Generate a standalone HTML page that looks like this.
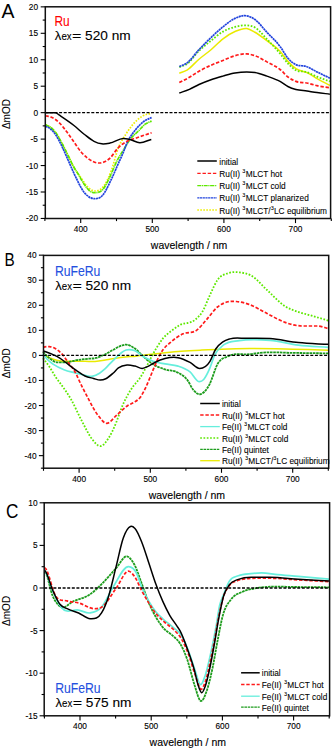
<!DOCTYPE html>
<html><head><meta charset="utf-8"><style>
html,body{margin:0;padding:0;background:#fff;width:333px;height:749px;overflow:hidden}
svg{display:block}
text{font-family:"Liberation Sans",sans-serif;fill:#000}
.tick{font-size:8.3px;fill:#000;stroke:#000;stroke-width:0.12px}
.leg{font-size:8.3px;fill:#000;stroke:#000;stroke-width:0.08px}
.sup{font-size:5.5px}
.xl{font-size:10.5px;fill:#000;stroke:#000;stroke-width:0.12px}
.yl{font-size:10px;fill:#000;stroke:#000;stroke-width:0.05px}
.pl{font-size:19.4px}
.an{font-size:13px;stroke:#000;stroke-width:0.1px}
.nm{font-size:14px}
.sub{font-size:10px;stroke:#000;stroke-width:0.1px}
</style></head><body>
<svg width="333" height="749" viewBox="0 0 333 749">
<path d="M45.47,124.82 C46.98,125.54 48.48,125.93 49.98,126.99 C51.99,128.40 53.99,130.27 56.00,133.02 C58.00,135.77 60.01,139.74 62.01,143.49 C64.02,147.24 66.02,151.50 68.03,155.50 C70.03,159.50 72.04,164.00 74.04,167.51 C76.28,171.43 78.53,174.21 80.77,177.40 C83.18,180.82 85.59,185.03 88.00,187.29 C90.41,189.56 92.82,190.97 95.23,190.99 C98.22,191.02 101.20,189.80 104.18,185.49 C106.60,182.01 109.01,176.74 111.42,170.21 C113.64,164.19 115.86,154.32 118.08,148.52 C120.77,141.47 123.47,137.96 126.17,133.70 C128.89,129.41 131.61,125.86 134.33,122.91 C137.03,120.00 139.72,117.70 142.42,116.09 C145.47,114.27 148.53,114.15 151.58,113.18" fill="none" stroke="#eeee00" stroke-width="1.70" stroke-dasharray="1.6 1.4" stroke-linejoin="round"/>
<path d="M179.29,73.24 C181.87,72.18 184.45,71.63 187.03,70.07 C191.01,67.65 195.00,62.61 198.98,59.22 C202.99,55.82 207.00,53.11 211.01,49.70 C215.00,46.30 218.98,41.82 222.97,38.80 C226.98,35.76 230.99,33.27 235.00,31.55 C238.94,29.87 242.87,27.89 246.81,28.54 C249.53,28.99 252.25,30.72 254.97,32.24 C258.94,34.46 262.90,37.74 266.86,40.71 C271.25,44.00 275.64,46.30 280.03,51.13 C282.80,54.17 285.57,58.86 288.34,61.87 C290.87,64.62 293.40,66.98 295.93,68.69 C299.61,71.18 303.28,70.88 306.96,72.60 C310.77,74.39 314.59,77.19 318.41,79.32 C322.23,81.46 326.05,83.38 329.87,85.41" fill="none" stroke="#eaea00" stroke-width="1.50" stroke-linejoin="round"/>
<path d="M45.47,124.82 C46.98,125.54 48.48,125.93 49.98,126.99 C51.99,128.40 53.99,130.27 56.00,133.02 C58.00,135.77 60.01,139.74 62.01,143.49 C64.02,147.24 66.02,151.50 68.03,155.50 C70.03,159.50 72.04,164.02 74.04,167.51 C75.31,169.71 76.57,171.44 77.84,173.49 C80.03,177.03 82.23,181.49 84.42,184.59 C86.21,187.13 88.00,189.62 89.79,190.99 C91.89,192.61 93.99,192.86 96.09,192.69 C98.19,192.52 100.29,192.17 102.39,189.99 C104.81,187.48 107.22,182.23 109.63,177.40 C112.01,172.62 114.40,165.90 116.79,161.21 C119.03,156.81 121.27,153.56 123.52,149.89 C125.78,146.19 128.05,142.09 130.32,139.10 C133.02,135.54 135.71,133.72 138.41,131.01 C140.65,128.75 142.90,125.84 145.14,124.18 C147.29,122.59 149.44,122.14 151.58,121.11" fill="none" stroke="#5ee800" stroke-width="1.70" stroke-dasharray="4 0.6 1.2 0.6" stroke-linejoin="round"/>
<path d="M179.29,67.16 C181.87,66.10 184.45,65.73 187.03,63.98 C191.01,61.28 195.00,54.79 198.98,50.92 C202.99,47.02 207.00,43.93 211.01,40.71 C215.00,37.50 218.98,33.90 222.97,31.61 C226.98,29.30 230.99,27.99 235.00,26.95 C238.94,25.93 242.87,24.98 246.81,25.37 C249.53,25.63 252.25,25.98 254.97,27.48 C258.94,29.67 262.90,35.03 266.86,39.12 C271.25,43.65 275.64,48.26 280.03,53.51 C282.80,56.82 285.57,61.10 288.34,63.98 C290.87,66.61 293.40,68.98 295.93,70.33 C299.13,72.03 302.33,70.87 305.52,71.76 C309.34,72.82 313.16,75.15 316.98,76.68 C321.28,78.40 325.57,79.85 329.87,81.44" fill="none" stroke="#5ee800" stroke-width="1.80" stroke-dasharray="1.7 1.6" stroke-linejoin="round"/>
<path d="M45.47,126.30 C46.98,127.04 48.48,127.37 49.98,128.52 C51.99,130.05 53.99,132.29 56.00,135.29 C58.00,138.29 60.01,142.39 62.01,146.51 C64.02,150.62 66.02,155.50 68.03,160.00 C70.03,164.49 72.04,169.28 74.04,173.49 C77.50,180.75 80.96,188.48 84.42,192.69 C87.72,196.69 91.01,198.54 94.30,198.72 C97.00,198.87 99.70,198.36 102.39,195.49 C105.40,192.29 108.41,185.39 111.42,179.20 C113.80,174.28 116.19,168.31 118.58,163.01 C119.79,160.31 121.01,157.78 122.23,154.97 C124.02,150.84 125.81,145.47 127.60,141.75 C130.29,136.13 132.99,132.95 135.69,129.58 C138.39,126.20 141.08,123.53 143.78,121.48 C146.38,119.52 148.98,118.77 151.58,117.41" fill="none" stroke="#2244dd" stroke-width="1.70" stroke-dasharray="2.2 0.5" stroke-linejoin="round"/>
<path d="M179.29,66.52 C181.87,65.32 184.45,64.77 187.03,62.92 C191.01,60.07 195.00,53.92 198.98,49.70 C202.99,45.45 207.00,41.36 211.01,37.53 C215.00,33.73 218.98,29.98 222.97,26.79 C226.98,23.59 230.99,20.21 235.00,18.38 C238.94,16.59 242.87,15.13 246.81,15.84 C249.53,16.33 252.25,17.63 254.97,19.55 C258.94,22.33 262.90,28.00 266.86,32.24 C271.25,36.95 275.64,40.61 280.03,46.42 C282.80,50.08 285.57,55.60 288.34,58.69 C290.87,61.52 293.40,63.37 295.93,64.67 C299.13,66.31 302.33,65.25 305.52,66.26 C309.34,67.46 313.16,70.05 316.98,71.92 C321.28,74.02 325.57,76.08 329.87,78.16" fill="none" stroke="#2244dd" stroke-width="1.70" stroke-dasharray="2.2 0.5" stroke-linejoin="round"/>
<path d="M45.47,115.77 C47.48,116.26 49.48,116.36 51.49,117.25 C53.99,118.37 56.50,120.12 59.01,122.49 C61.51,124.86 64.02,128.21 66.52,131.48 C69.01,134.72 71.49,138.53 73.97,142.01 C76.48,145.53 78.98,149.62 81.49,152.48 C83.66,154.97 85.83,156.92 88.00,158.51 C91.61,161.16 95.21,163.01 98.81,163.01 C102.42,163.01 106.02,161.72 109.63,158.51 C112.44,156.01 115.26,150.70 118.08,147.88 C120.77,145.19 123.47,143.39 126.17,141.80 C129.77,139.67 133.37,139.03 136.98,137.72 C141.85,135.97 146.72,134.41 151.58,132.75" fill="none" stroke="#ff1a1a" stroke-width="1.70" stroke-dasharray="3.4 1.8" stroke-linejoin="round"/>
<path d="M179.29,82.60 C182.66,80.82 186.02,79.20 189.39,77.26 C192.59,75.41 195.79,73.10 198.98,71.28 C202.99,69.00 207.00,67.06 211.01,65.25 C215.00,63.45 218.98,62.03 222.97,60.44 C226.98,58.84 230.99,56.76 235.00,55.68 C238.94,54.61 242.87,53.67 246.81,53.93 C249.53,54.11 252.25,54.75 254.97,55.68 C258.94,57.02 262.90,59.69 266.86,61.87 C271.25,64.27 275.64,66.00 280.03,69.48 C282.80,71.68 285.57,75.18 288.34,77.21 C290.87,79.06 293.40,80.41 295.93,81.39 C299.61,82.81 303.28,82.26 306.96,83.03 C310.30,83.72 313.64,84.94 316.98,85.67 C321.28,86.62 325.57,87.08 329.87,87.79" fill="none" stroke="#ff1a1a" stroke-width="1.70" stroke-dasharray="3.4 1.8" stroke-linejoin="round"/>
<path d="M44.90,112.65 C48.43,112.65 51.96,112.65 55.50,112.65 C56.67,112.65 57.84,114.19 59.01,114.98 C63.99,118.32 68.98,121.55 73.97,125.50 C77.48,128.28 80.99,131.75 84.49,134.50 C87.67,136.98 90.84,139.73 94.02,141.32 C96.62,142.63 99.22,143.55 101.82,143.86 C104.54,144.18 107.26,143.60 109.98,143.07 C114.40,142.21 118.82,138.48 123.23,138.41 C125.43,138.38 127.62,138.92 129.82,139.42 C133.11,140.16 136.40,142.54 139.70,142.70 C143.56,142.89 147.43,140.51 151.30,139.42" fill="none" stroke="#000" stroke-width="1.50" stroke-linejoin="round"/>
<path d="M179.29,93.02 C182.66,91.81 186.02,90.84 189.39,89.37 C192.59,87.98 195.79,85.98 198.98,84.51 C202.99,82.66 207.00,81.10 211.01,79.69 C215.00,78.30 218.98,77.21 222.97,76.10 C226.98,74.97 230.99,73.67 235.00,72.98 C238.94,72.29 242.87,71.91 246.81,71.92 C249.53,71.92 252.25,72.00 254.97,72.45 C258.94,73.10 262.90,74.75 266.86,76.15 C271.25,77.70 275.64,79.04 280.03,81.44 C282.80,82.95 285.57,85.37 288.34,86.73 C290.87,87.97 293.40,88.75 295.93,89.43 C299.61,90.42 303.28,90.47 306.96,91.01 C310.30,91.51 313.64,92.08 316.98,92.55 C321.28,93.15 325.57,93.61 329.87,94.14" fill="none" stroke="#000" stroke-width="1.50" stroke-linejoin="round"/>
<line x1="45.30" y1="112.65" x2="330.60" y2="112.65" stroke="#000" stroke-width="1.3" stroke-dasharray="3 1.6"/>
<rect x="45.30" y="6.80" width="285.30" height="211.70" fill="none" stroke="#111" stroke-width="1.5"/>
<line x1="40.70" y1="218.45" x2="45.30" y2="218.45" stroke="#000" stroke-width="1.1"/>
<text x="38.00" y="221.45" class="tick" text-anchor="end">-20</text>
<line x1="42.70" y1="205.23" x2="45.30" y2="205.23" stroke="#000" stroke-width="1.1"/>
<line x1="40.70" y1="192.00" x2="45.30" y2="192.00" stroke="#000" stroke-width="1.1"/>
<text x="38.00" y="195.00" class="tick" text-anchor="end">-15</text>
<line x1="42.70" y1="178.78" x2="45.30" y2="178.78" stroke="#000" stroke-width="1.1"/>
<line x1="40.70" y1="165.55" x2="45.30" y2="165.55" stroke="#000" stroke-width="1.1"/>
<text x="38.00" y="168.55" class="tick" text-anchor="end">-10</text>
<line x1="42.70" y1="152.32" x2="45.30" y2="152.32" stroke="#000" stroke-width="1.1"/>
<line x1="40.70" y1="139.10" x2="45.30" y2="139.10" stroke="#000" stroke-width="1.1"/>
<text x="38.00" y="142.10" class="tick" text-anchor="end">-5</text>
<line x1="42.70" y1="125.88" x2="45.30" y2="125.88" stroke="#000" stroke-width="1.1"/>
<line x1="40.70" y1="112.65" x2="45.30" y2="112.65" stroke="#000" stroke-width="1.1"/>
<text x="38.00" y="115.65" class="tick" text-anchor="end">0</text>
<line x1="42.70" y1="99.43" x2="45.30" y2="99.43" stroke="#000" stroke-width="1.1"/>
<line x1="40.70" y1="86.20" x2="45.30" y2="86.20" stroke="#000" stroke-width="1.1"/>
<text x="38.00" y="89.20" class="tick" text-anchor="end">5</text>
<line x1="42.70" y1="72.98" x2="45.30" y2="72.98" stroke="#000" stroke-width="1.1"/>
<line x1="40.70" y1="59.75" x2="45.30" y2="59.75" stroke="#000" stroke-width="1.1"/>
<text x="38.00" y="62.75" class="tick" text-anchor="end">10</text>
<line x1="42.70" y1="46.53" x2="45.30" y2="46.53" stroke="#000" stroke-width="1.1"/>
<line x1="40.70" y1="33.30" x2="45.30" y2="33.30" stroke="#000" stroke-width="1.1"/>
<text x="38.00" y="36.30" class="tick" text-anchor="end">15</text>
<line x1="42.70" y1="20.08" x2="45.30" y2="20.08" stroke="#000" stroke-width="1.1"/>
<line x1="40.70" y1="6.85" x2="45.30" y2="6.85" stroke="#000" stroke-width="1.1"/>
<text x="38.00" y="9.85" class="tick" text-anchor="end">20</text>
<line x1="44.90" y1="218.50" x2="44.90" y2="221.10" stroke="#000" stroke-width="1.1"/>
<line x1="80.70" y1="218.50" x2="80.70" y2="223.10" stroke="#000" stroke-width="1.1"/>
<text x="80.70" y="232.10" class="tick" text-anchor="middle">400</text>
<line x1="116.50" y1="218.50" x2="116.50" y2="221.10" stroke="#000" stroke-width="1.1"/>
<line x1="152.30" y1="218.50" x2="152.30" y2="223.10" stroke="#000" stroke-width="1.1"/>
<text x="152.30" y="232.10" class="tick" text-anchor="middle">500</text>
<line x1="188.10" y1="218.50" x2="188.10" y2="221.10" stroke="#000" stroke-width="1.1"/>
<line x1="223.90" y1="218.50" x2="223.90" y2="223.10" stroke="#000" stroke-width="1.1"/>
<text x="223.90" y="232.10" class="tick" text-anchor="middle">600</text>
<line x1="259.70" y1="218.50" x2="259.70" y2="221.10" stroke="#000" stroke-width="1.1"/>
<line x1="295.50" y1="218.50" x2="295.50" y2="223.10" stroke="#000" stroke-width="1.1"/>
<text x="295.50" y="232.10" class="tick" text-anchor="middle">700</text>
<line x1="331.30" y1="218.50" x2="331.30" y2="221.10" stroke="#000" stroke-width="1.1"/>
<line x1="197.30" y1="161.00" x2="216.80" y2="161.00" fill="none" stroke="#000" stroke-width="1.50"/>
<text x="219.30" y="164.60" class="leg">initial</text>
<line x1="197.30" y1="173.30" x2="216.80" y2="173.30" fill="none" stroke="#ff1a1a" stroke-width="1.30" stroke-dasharray="3.4 1.8"/>
<text x="219.30" y="176.90" class="leg">Ru(II) <tspan class="sup" dy="-4.0">3</tspan><tspan dx="0.3" dy="4.0">MLCT hot</tspan></text>
<line x1="197.30" y1="185.60" x2="216.80" y2="185.60" fill="none" stroke="#5ee800" stroke-width="1.30" stroke-dasharray="4 0.6 1.2 0.6"/>
<text x="219.30" y="189.20" class="leg">Ru(II) <tspan class="sup" dy="-4.0">3</tspan><tspan dx="0.3" dy="4.0">MLCT cold</tspan></text>
<line x1="197.30" y1="197.80" x2="216.80" y2="197.80" fill="none" stroke="#2244dd" stroke-width="1.30" stroke-dasharray="2.2 0.5"/>
<text x="219.30" y="201.40" class="leg">Ru(II) <tspan class="sup" dy="-4.0">3</tspan><tspan dx="0.3" dy="4.0">MLCT planarized</tspan></text>
<line x1="197.30" y1="210.00" x2="216.80" y2="210.00" fill="none" stroke="#eeee00" stroke-width="1.30" stroke-dasharray="1.6 1.4"/>
<text x="219.30" y="213.60" class="leg">Ru(II) <tspan class="sup" dy="-4.0">3</tspan><tspan dx="0.3" dy="4.0">MLCT/</tspan><tspan class="sup" dy="-4.0">3</tspan><tspan dx="0.3" dy="4.0">LC equilibrium</tspan></text>
<text x="189.10" y="248.90" class="xl" text-anchor="middle">wavelength / nm</text>
<text transform="translate(9.8,114.10) rotate(-90)" class="yl" text-anchor="middle">&#916;mOD</text>
<path d="M43.00,355.00 C46.49,356.40 49.98,358.16 53.47,359.21 C56.98,360.26 60.49,361.29 64.01,361.29 C71.01,361.29 78.01,361.29 85.01,361.29 C88.33,361.29 91.65,361.60 94.98,361.41 C99.49,361.16 104.00,360.08 108.51,359.41 C114.01,358.58 119.52,357.46 125.02,356.90 C128.70,356.53 132.38,356.48 136.06,356.15 C142.04,355.63 148.02,354.68 154.00,354.00 C162.02,353.07 170.05,352.04 178.07,351.39 C185.43,350.79 192.78,350.52 200.14,350.14 C207.26,349.77 214.38,349.39 221.50,349.13 C230.99,348.79 240.49,348.58 249.98,348.51 C264.22,348.40 278.46,348.82 292.70,349.13 C304.57,349.40 316.43,349.80 328.30,350.14" fill="none" stroke="#eaea00" stroke-width="1.50" stroke-linejoin="round"/>
<path d="M43.00,351.79 C45.09,353.90 47.18,356.46 49.27,358.11 C52.09,360.34 54.92,362.29 57.74,362.29 C60.52,362.29 63.29,362.29 66.07,362.29 C69.58,362.29 73.10,360.79 76.61,360.21 C80.81,359.52 85.01,359.07 89.21,358.66 C91.13,358.47 93.06,358.53 94.98,358.16 C97.99,357.57 101.01,356.28 104.02,354.90 C107.01,353.53 110.00,351.49 112.99,349.91 C116.01,348.32 119.02,346.30 122.03,345.40 C123.20,345.05 124.36,344.68 125.52,344.62 C128.68,344.47 131.84,346.44 134.99,348.61 C138.01,350.68 141.02,354.48 144.03,357.10 C147.02,359.71 150.02,362.39 153.01,364.30 C156.99,366.84 160.98,367.94 164.97,369.31 C169.33,370.80 173.70,370.18 178.07,372.69 C181.27,374.54 184.48,376.06 187.68,380.46 C189.46,382.91 191.24,387.25 193.02,389.48 C195.35,392.40 197.67,394.44 200.00,394.24 C201.47,394.12 202.94,393.17 204.41,391.74 C206.07,390.12 207.73,387.64 209.40,384.59 C212.20,379.47 215.00,368.34 217.80,363.59 C221.19,357.85 224.59,358.07 227.98,356.30 C235.31,352.49 242.65,355.03 249.98,354.20 C254.32,353.71 258.67,352.95 263.01,352.59 C272.91,351.78 282.80,352.78 292.70,352.89 C304.57,353.04 316.43,353.23 328.30,353.40" fill="none" stroke="#1c9c1c" stroke-width="1.80" stroke-dasharray="2.6 0.7" stroke-linejoin="round"/>
<path d="M43.00,358.11 C45.09,360.90 47.18,363.37 49.27,366.50 C51.38,369.66 53.49,373.83 55.60,377.00 C57.69,380.14 59.78,382.51 61.87,385.47 C64.84,389.68 67.80,393.78 70.77,398.90 C74.38,405.14 77.98,413.74 81.59,420.51 C85.20,427.27 88.81,435.08 92.41,439.50 C95.10,442.79 97.78,446.40 100.46,446.19 C103.17,445.98 105.87,442.25 108.58,438.10 C111.12,434.20 113.66,428.90 116.20,422.56 C117.79,418.59 119.38,413.26 120.97,409.28 C122.98,404.22 125.00,400.04 127.02,396.25 C129.01,392.50 131.00,389.44 133.00,386.60 C135.16,383.52 137.32,381.87 139.48,378.71 C141.59,375.61 143.70,371.77 145.81,367.90 C147.78,364.30 149.75,360.04 151.72,356.40 C153.48,353.16 155.24,349.97 156.99,347.13 C158.99,343.90 160.98,340.82 162.97,338.41 C165.39,335.48 167.82,333.78 170.24,331.79 C173.49,329.13 176.74,326.82 179.99,325.00 C185.00,322.21 190.01,324.09 195.01,319.81 C197.51,317.69 200.00,315.68 202.49,311.54 C204.98,307.41 207.47,300.25 209.97,295.01 C212.48,289.72 215.00,283.56 217.51,279.97 C221.00,274.99 224.49,274.51 227.98,273.20 C231.99,271.70 236.00,272.00 240.01,272.45 C243.67,272.87 247.32,273.52 250.98,275.46 C256.32,278.30 261.66,285.16 267.00,289.99 C273.00,295.43 279.01,302.48 285.01,306.28 C289.83,309.33 294.65,310.67 299.46,312.30 C303.07,313.51 306.68,314.28 310.29,315.30 C316.29,317.00 322.30,318.81 328.30,320.57" fill="none" stroke="#5ee800" stroke-width="1.80" stroke-dasharray="1.7 1.6" stroke-linejoin="round"/>
<path d="M43.00,353.90 C44.40,355.67 45.80,357.68 47.20,359.21 C49.29,361.48 51.38,362.92 53.47,364.40 C56.98,366.88 60.49,368.31 64.01,369.71 C67.49,371.10 70.98,371.85 74.47,372.79 C77.98,373.74 81.50,374.77 85.01,375.40 C87.31,375.81 89.61,376.60 91.92,376.33 C94.46,376.02 96.99,374.94 99.53,373.29 C101.03,372.32 102.52,371.06 104.02,369.71 C105.52,368.36 107.01,366.70 108.51,365.20 C110.00,363.69 111.50,362.19 112.99,360.69 C114.49,359.19 115.98,357.61 117.48,356.20 C119.00,354.77 120.51,353.25 122.03,352.19 C123.39,351.25 124.74,350.47 126.09,350.01 C129.06,349.00 132.03,349.63 134.99,350.79 C138.01,351.97 141.02,355.37 144.03,357.10 C147.02,358.83 150.02,360.12 153.01,361.19 C156.99,362.61 160.98,363.09 164.97,363.90 C169.33,364.77 173.70,364.71 178.07,366.18 C182.06,367.51 186.04,368.77 190.03,371.94 C193.16,374.43 196.30,381.83 199.43,381.71 C200.85,381.66 202.28,380.99 203.70,379.46 C205.60,377.42 207.50,373.45 209.40,369.18 C211.15,365.24 212.91,358.89 214.66,355.20 C217.77,348.66 220.88,347.19 223.99,344.70 C229.09,340.61 234.20,341.54 239.30,340.61 C249.53,338.77 259.76,339.51 269.99,340.36 C279.46,341.15 288.93,343.96 298.40,345.13 C308.36,346.35 318.33,346.63 328.30,347.38" fill="none" stroke="#66eedc" stroke-width="1.70" stroke-linejoin="round"/>
<path d="M43.00,347.21 C45.09,347.00 47.18,346.36 49.27,346.60 C51.38,346.85 53.49,347.48 55.60,348.71 C57.69,349.92 59.78,351.65 61.87,353.90 C63.98,356.17 66.09,359.33 68.21,362.29 C71.01,366.21 73.81,369.06 76.61,374.90 C77.37,376.48 78.13,378.35 78.89,380.01 C81.59,385.93 84.30,391.09 87.00,396.20 C90.61,403.01 94.22,410.34 97.83,415.09 C100.55,418.69 103.28,422.57 106.01,423.21 C109.60,424.06 113.18,418.00 116.76,415.09 C120.37,412.17 123.98,408.04 127.59,405.70 C129.79,404.26 132.00,403.75 134.21,402.26 C136.20,400.92 138.20,400.04 140.19,397.40 C141.80,395.26 143.42,392.26 145.03,388.98 C146.55,385.89 148.07,382.06 149.59,378.46 C151.04,375.02 152.48,371.31 153.93,367.90 C155.36,364.55 156.78,361.05 158.20,358.16 C159.79,354.93 161.38,352.12 162.97,349.81 C165.39,346.30 167.82,344.74 170.24,342.59 C172.23,340.82 174.22,339.20 176.22,337.81 C178.47,336.23 180.73,334.92 182.98,333.85 C187.49,331.70 192.00,333.59 196.51,330.34 C200.00,327.83 203.49,322.93 206.98,319.06 C210.49,315.17 214.00,309.92 217.51,307.03 C221.00,304.17 224.49,302.61 227.98,301.77 C230.78,301.10 233.58,301.31 236.38,301.52 C240.58,301.83 244.78,302.97 248.98,304.40 C254.99,306.45 260.99,310.40 267.00,313.40 C273.00,316.40 279.01,320.30 285.01,322.40 C291.01,324.50 297.02,326.00 303.02,326.00 C307.84,326.00 312.66,326.00 317.48,326.00 C321.09,326.00 324.69,327.74 328.30,328.61" fill="none" stroke="#ff1a1a" stroke-width="1.70" stroke-dasharray="3.4 1.8" stroke-linejoin="round"/>
<path d="M43.00,350.79 C45.80,351.82 48.60,352.68 51.40,353.90 C54.20,355.12 57.00,356.36 59.80,358.11 C62.61,359.86 65.41,362.30 68.21,364.40 C71.01,366.49 73.81,368.75 76.61,370.69 C79.41,372.62 82.21,374.71 85.01,376.00 C87.83,377.30 90.66,377.71 93.48,378.46 C95.78,379.06 98.09,380.20 100.39,380.11 C102.19,380.04 104.00,379.56 105.80,378.71 C108.20,377.58 110.59,375.43 112.99,373.29 C114.79,371.69 116.60,369.24 118.40,367.90 C121.27,365.77 124.15,365.26 127.02,365.00 C129.68,364.76 132.33,365.48 134.99,366.10 C137.39,366.66 139.79,368.51 142.18,368.41 C144.30,368.31 146.41,367.09 148.52,366.10 C150.61,365.12 152.70,363.55 154.79,362.49 C158.18,360.78 161.57,359.35 164.97,358.51 C169.33,357.42 173.70,356.88 178.07,357.66 C182.06,358.36 186.04,360.34 190.03,362.42 C193.26,364.10 196.49,368.49 199.71,368.43 C203.13,368.37 206.55,366.80 209.97,361.29 C211.89,358.19 213.81,352.13 215.73,349.01 C218.13,345.12 220.53,343.56 222.92,341.87 C225.30,340.19 227.67,339.58 230.04,338.86 C235.50,337.20 240.96,338.43 246.42,338.36 C254.28,338.25 262.13,338.06 269.99,338.61 C279.46,339.27 288.93,341.66 298.40,342.62 C308.36,343.63 318.33,343.79 328.30,344.37" fill="none" stroke="#000" stroke-width="1.50" stroke-linejoin="round"/>
<line x1="43.50" y1="355.40" x2="328.70" y2="355.40" stroke="#000" stroke-width="1.3" stroke-dasharray="3 1.6"/>
<rect x="43.50" y="255.40" width="285.20" height="212.80" fill="none" stroke="#111" stroke-width="1.5"/>
<line x1="40.90" y1="468.17" x2="43.50" y2="468.17" stroke="#000" stroke-width="1.1"/>
<line x1="38.90" y1="455.64" x2="43.50" y2="455.64" stroke="#000" stroke-width="1.1"/>
<text x="36.60" y="458.64" class="tick" text-anchor="end">-40</text>
<line x1="40.90" y1="443.11" x2="43.50" y2="443.11" stroke="#000" stroke-width="1.1"/>
<line x1="38.90" y1="430.58" x2="43.50" y2="430.58" stroke="#000" stroke-width="1.1"/>
<text x="36.60" y="433.58" class="tick" text-anchor="end">-30</text>
<line x1="40.90" y1="418.05" x2="43.50" y2="418.05" stroke="#000" stroke-width="1.1"/>
<line x1="38.90" y1="405.52" x2="43.50" y2="405.52" stroke="#000" stroke-width="1.1"/>
<text x="36.60" y="408.52" class="tick" text-anchor="end">-20</text>
<line x1="40.90" y1="392.99" x2="43.50" y2="392.99" stroke="#000" stroke-width="1.1"/>
<line x1="38.90" y1="380.46" x2="43.50" y2="380.46" stroke="#000" stroke-width="1.1"/>
<text x="36.60" y="383.46" class="tick" text-anchor="end">-10</text>
<line x1="40.90" y1="367.93" x2="43.50" y2="367.93" stroke="#000" stroke-width="1.1"/>
<line x1="38.90" y1="355.40" x2="43.50" y2="355.40" stroke="#000" stroke-width="1.1"/>
<text x="36.60" y="358.40" class="tick" text-anchor="end">0</text>
<line x1="40.90" y1="342.87" x2="43.50" y2="342.87" stroke="#000" stroke-width="1.1"/>
<line x1="38.90" y1="330.34" x2="43.50" y2="330.34" stroke="#000" stroke-width="1.1"/>
<text x="36.60" y="333.34" class="tick" text-anchor="end">10</text>
<line x1="40.90" y1="317.81" x2="43.50" y2="317.81" stroke="#000" stroke-width="1.1"/>
<line x1="38.90" y1="305.28" x2="43.50" y2="305.28" stroke="#000" stroke-width="1.1"/>
<text x="36.60" y="308.28" class="tick" text-anchor="end">20</text>
<line x1="40.90" y1="292.75" x2="43.50" y2="292.75" stroke="#000" stroke-width="1.1"/>
<line x1="38.90" y1="280.22" x2="43.50" y2="280.22" stroke="#000" stroke-width="1.1"/>
<text x="36.60" y="283.22" class="tick" text-anchor="end">30</text>
<line x1="40.90" y1="267.69" x2="43.50" y2="267.69" stroke="#000" stroke-width="1.1"/>
<line x1="38.90" y1="255.16" x2="43.50" y2="255.16" stroke="#000" stroke-width="1.1"/>
<text x="36.60" y="258.16" class="tick" text-anchor="end">40</text>
<line x1="43.50" y1="468.20" x2="43.50" y2="470.80" stroke="#000" stroke-width="1.1"/>
<line x1="79.10" y1="468.20" x2="79.10" y2="472.80" stroke="#000" stroke-width="1.1"/>
<text x="79.10" y="481.80" class="tick" text-anchor="middle">400</text>
<line x1="114.70" y1="468.20" x2="114.70" y2="470.80" stroke="#000" stroke-width="1.1"/>
<line x1="150.30" y1="468.20" x2="150.30" y2="472.80" stroke="#000" stroke-width="1.1"/>
<text x="150.30" y="481.80" class="tick" text-anchor="middle">500</text>
<line x1="185.90" y1="468.20" x2="185.90" y2="470.80" stroke="#000" stroke-width="1.1"/>
<line x1="221.50" y1="468.20" x2="221.50" y2="472.80" stroke="#000" stroke-width="1.1"/>
<text x="221.50" y="481.80" class="tick" text-anchor="middle">600</text>
<line x1="257.10" y1="468.20" x2="257.10" y2="470.80" stroke="#000" stroke-width="1.1"/>
<line x1="292.70" y1="468.20" x2="292.70" y2="472.80" stroke="#000" stroke-width="1.1"/>
<text x="292.70" y="481.80" class="tick" text-anchor="middle">700</text>
<line x1="328.30" y1="468.20" x2="328.30" y2="470.80" stroke="#000" stroke-width="1.1"/>
<line x1="200.20" y1="403.50" x2="219.80" y2="403.50" fill="none" stroke="#000" stroke-width="1.50"/>
<text x="221.90" y="407.10" class="leg">initial</text>
<line x1="200.20" y1="415.00" x2="219.80" y2="415.00" fill="none" stroke="#ff1a1a" stroke-width="1.30" stroke-dasharray="3.4 1.8"/>
<text x="221.90" y="418.60" class="leg">Ru(II) <tspan class="sup" dy="-4.0">3</tspan><tspan dx="0.3" dy="4.0">MLCT hot</tspan></text>
<line x1="200.20" y1="426.60" x2="219.80" y2="426.60" fill="none" stroke="#66eedc" stroke-width="1.30"/>
<text x="221.90" y="430.20" class="leg">Fe(II) <tspan class="sup" dy="-4.0">3</tspan><tspan dx="0.3" dy="4.0">MLCT cold</tspan></text>
<line x1="200.20" y1="438.00" x2="219.80" y2="438.00" fill="none" stroke="#5ee800" stroke-width="1.30" stroke-dasharray="1.7 1.6"/>
<text x="221.90" y="441.60" class="leg">Ru(II) <tspan class="sup" dy="-4.0">3</tspan><tspan dx="0.3" dy="4.0">MLCT cold</tspan></text>
<line x1="200.20" y1="449.30" x2="219.80" y2="449.30" fill="none" stroke="#1c9c1c" stroke-width="1.30" stroke-dasharray="2.6 0.7"/>
<text x="221.90" y="452.90" class="leg">Fe(II) quintet</text>
<line x1="200.20" y1="460.70" x2="219.80" y2="460.70" fill="none" stroke="#eaea00" stroke-width="1.30"/>
<text x="221.90" y="464.30" class="leg">Ru(II) <tspan class="sup" dy="-4.0">3</tspan><tspan dx="0.3" dy="4.0">MLCT/</tspan><tspan class="sup" dy="-4.0">3</tspan><tspan dx="0.3" dy="4.0">LC equilibrium</tspan></text>
<text x="186.90" y="498.60" class="xl" text-anchor="middle">wavelength / nm</text>
<text transform="translate(9.8,363.20) rotate(-90)" class="yl" text-anchor="middle">&#916;mOD</text>
<path d="M44.40,571.81 C44.73,572.07 45.06,572.22 45.40,572.58 C47.79,575.14 50.19,590.02 52.59,595.67 C55.48,602.49 58.38,605.60 61.27,607.17 C65.12,609.26 68.96,603.24 72.81,601.46 C78.58,598.79 84.34,598.32 90.11,594.30 C93.93,591.64 97.75,587.90 101.57,584.17 C106.39,579.45 111.21,573.58 116.03,568.32 C119.68,564.33 123.34,555.58 126.99,556.39 C129.65,556.98 132.31,560.55 134.97,565.76 C137.27,570.28 139.57,577.84 141.87,584.00 C144.22,590.28 146.57,597.55 148.92,603.08 C151.22,608.50 153.53,612.94 155.83,616.97 C158.15,621.04 160.48,624.50 162.81,627.36 C166.27,631.63 169.74,632.74 173.20,636.14 C175.46,638.35 177.71,639.72 179.96,643.38 C182.39,647.31 184.81,652.55 187.23,659.48 C189.62,666.35 192.02,677.48 194.42,684.70 C196.51,691.00 198.60,699.96 200.68,700.89 C202.80,701.83 204.91,696.18 207.02,689.98 C208.82,684.69 210.63,676.98 212.43,668.51 C214.21,660.16 215.99,648.70 217.77,639.63 C219.43,631.17 221.09,621.89 222.76,615.69 C225.49,605.50 228.21,603.39 230.94,599.50 C234.62,594.26 238.30,593.82 241.98,592.00 C246.18,589.93 250.38,589.29 254.58,588.43 C259.73,587.37 264.88,587.04 270.03,586.72 C277.89,586.23 285.74,586.90 293.60,586.98 C305.47,587.10 317.33,587.20 329.20,587.32" fill="none" stroke="#1c9c1c" stroke-width="1.80" stroke-dasharray="2.6 0.7" stroke-linejoin="round"/>
<path d="M44.40,570.96 C44.73,571.24 45.06,571.46 45.40,571.81 C47.79,574.37 50.19,585.06 52.59,590.56 C55.48,597.19 58.38,603.32 61.27,607.17 C67.04,614.84 72.81,608.81 78.58,610.07 C82.42,610.90 86.27,613.46 90.11,612.96 C93.93,612.47 97.75,611.45 101.57,607.17 C105.44,602.84 109.31,593.01 113.18,586.98 C118.33,578.95 123.48,566.11 128.63,566.61 C131.15,566.86 133.66,567.97 136.18,572.58 C138.08,576.06 139.97,583.07 141.87,587.49 C144.22,592.96 146.57,597.30 148.92,601.38 C151.22,605.37 153.53,608.88 155.83,611.77 C158.15,614.69 160.48,616.59 162.81,618.76 C166.27,621.99 169.74,624.15 173.20,627.36 C176.10,630.05 178.99,631.19 181.89,636.14 C184.00,639.75 186.11,644.77 188.22,650.20 C190.36,655.69 192.50,663.04 194.63,668.94 C196.65,674.51 198.67,684.80 200.68,684.70 C202.18,684.63 203.67,680.03 205.17,675.67 C206.97,670.42 208.78,662.14 210.58,654.03 C212.38,645.92 214.19,637.07 215.99,627.02 C217.20,620.28 218.41,610.62 219.62,605.38 C220.81,600.24 222.00,598.74 223.18,595.67 C225.25,590.33 227.31,584.55 229.38,581.18 C232.39,576.27 235.41,577.08 238.42,575.82 C242.62,574.06 246.82,574.06 251.02,573.60 C255.84,573.07 260.66,572.77 265.48,573.09 C268.66,573.30 271.84,573.99 275.02,574.37 C282.80,575.30 290.59,575.64 298.37,576.33 C308.65,577.23 318.92,578.26 329.20,579.22" fill="none" stroke="#66eedc" stroke-width="1.70" stroke-linejoin="round"/>
<path d="M44.40,567.55 C44.73,567.81 45.06,568.01 45.40,568.32 C48.77,571.50 52.14,590.09 55.51,595.67 C59.38,602.07 63.24,599.66 67.11,600.87 C70.93,602.06 74.75,601.99 78.58,602.91 C84.34,604.30 90.11,609.39 95.88,608.70 C97.78,608.48 99.67,608.23 101.57,607.17 C106.39,604.48 111.21,594.84 116.03,588.51 C120.35,582.84 124.67,570.13 128.99,571.22 C130.98,571.72 132.97,574.18 134.97,577.09 C137.27,580.46 139.57,586.69 141.87,590.98 C144.22,595.36 146.57,599.30 148.92,603.08 C151.22,606.79 153.53,610.52 155.83,613.47 C158.72,617.19 161.62,619.54 164.51,622.17 C167.41,624.79 170.31,626.33 173.20,629.24 C176.10,632.15 178.99,634.48 181.89,639.63 C184.00,643.39 186.11,648.05 188.22,653.60 C190.36,659.22 192.50,667.45 194.63,673.20 C196.96,679.46 199.28,690.44 201.61,689.22 C202.84,688.57 204.08,685.31 205.31,681.72 C206.97,676.88 208.63,668.94 210.30,661.27 C211.96,653.60 213.62,644.60 215.28,635.71 C216.47,629.37 217.65,621.99 218.84,616.12 C220.38,608.48 221.93,601.45 223.47,596.52 C225.44,590.22 227.41,588.12 229.38,585.44 C232.39,581.35 235.41,581.51 238.42,580.33 C242.62,578.69 246.82,578.86 251.02,578.46 C257.36,577.86 263.70,578.10 270.03,578.20 C279.48,578.35 288.92,579.36 298.37,579.91 C308.65,580.50 318.92,581.04 329.20,581.61" fill="none" stroke="#ff1a1a" stroke-width="1.70" stroke-dasharray="3.4 1.8" stroke-linejoin="round"/>
<path d="M44.40,570.11 C44.73,570.48 45.06,570.79 45.40,571.22 C47.79,574.31 50.19,584.40 52.59,589.87 C55.03,595.45 57.48,601.14 59.92,604.27 C62.32,607.35 64.72,607.45 67.11,608.70 C70.93,610.70 74.75,611.31 78.58,612.96 C82.42,614.63 86.27,618.68 90.11,618.67 C93.93,618.66 97.75,619.34 101.57,612.96 C103.97,608.96 106.37,603.29 108.76,595.67 C111.19,587.97 113.61,576.48 116.03,566.87 C118.45,557.26 120.87,544.72 123.29,537.99 C125.69,531.32 128.08,527.29 130.48,526.49 C131.98,525.99 133.47,526.93 134.97,528.53 C137.27,530.99 139.57,536.72 141.87,542.42 C144.22,548.23 146.57,556.21 148.92,563.21 C151.22,570.07 153.53,577.66 155.83,584.00 C158.15,590.40 160.48,596.14 162.81,601.38 C165.11,606.56 167.41,611.23 169.71,615.26 C172.04,619.34 174.36,622.16 176.69,625.66 C177.78,627.30 178.87,628.62 179.96,630.60 C182.39,634.98 184.81,641.92 187.23,648.58 C189.62,655.17 192.02,661.42 194.42,670.30 C195.61,674.70 196.79,680.97 197.98,684.70 C199.19,688.51 200.40,692.54 201.61,692.80 C202.80,693.04 203.98,689.72 205.17,686.49 C206.69,682.35 208.21,675.50 209.73,668.51 C211.22,661.64 212.72,653.31 214.21,645.00 C215.71,636.69 217.20,626.56 218.70,618.67 C220.29,610.28 221.88,602.02 223.47,596.52 C225.44,589.71 227.41,587.59 229.38,584.76 C232.39,580.43 235.41,580.65 238.42,579.39 C242.62,577.65 246.82,577.26 251.02,577.26 C257.36,577.26 263.70,577.26 270.03,577.26 C279.48,577.26 288.92,578.61 298.37,579.22 C308.65,579.89 318.92,580.47 329.20,581.10" fill="none" stroke="#000" stroke-width="1.50" stroke-linejoin="round"/>
<line x1="44.20" y1="588.00" x2="329.60" y2="588.00" stroke="#000" stroke-width="1.3" stroke-dasharray="3 1.6"/>
<rect x="44.20" y="502.80" width="285.40" height="213.00" fill="none" stroke="#111" stroke-width="1.5"/>
<line x1="39.60" y1="715.80" x2="44.20" y2="715.80" stroke="#000" stroke-width="1.1"/>
<text x="37.60" y="718.80" class="tick" text-anchor="end">-15</text>
<line x1="41.60" y1="694.50" x2="44.20" y2="694.50" stroke="#000" stroke-width="1.1"/>
<line x1="39.60" y1="673.20" x2="44.20" y2="673.20" stroke="#000" stroke-width="1.1"/>
<text x="37.60" y="676.20" class="tick" text-anchor="end">-10</text>
<line x1="41.60" y1="651.90" x2="44.20" y2="651.90" stroke="#000" stroke-width="1.1"/>
<line x1="39.60" y1="630.60" x2="44.20" y2="630.60" stroke="#000" stroke-width="1.1"/>
<text x="37.60" y="633.60" class="tick" text-anchor="end">-5</text>
<line x1="41.60" y1="609.30" x2="44.20" y2="609.30" stroke="#000" stroke-width="1.1"/>
<line x1="39.60" y1="588.00" x2="44.20" y2="588.00" stroke="#000" stroke-width="1.1"/>
<text x="37.60" y="591.00" class="tick" text-anchor="end">0</text>
<line x1="41.60" y1="566.70" x2="44.20" y2="566.70" stroke="#000" stroke-width="1.1"/>
<line x1="39.60" y1="545.40" x2="44.20" y2="545.40" stroke="#000" stroke-width="1.1"/>
<text x="37.60" y="548.40" class="tick" text-anchor="end">5</text>
<line x1="41.60" y1="524.10" x2="44.20" y2="524.10" stroke="#000" stroke-width="1.1"/>
<line x1="39.60" y1="502.80" x2="44.20" y2="502.80" stroke="#000" stroke-width="1.1"/>
<text x="37.60" y="505.80" class="tick" text-anchor="end">10</text>
<line x1="44.40" y1="715.80" x2="44.40" y2="718.40" stroke="#000" stroke-width="1.1"/>
<line x1="80.00" y1="715.80" x2="80.00" y2="720.40" stroke="#000" stroke-width="1.1"/>
<text x="80.00" y="729.40" class="tick" text-anchor="middle">400</text>
<line x1="115.60" y1="715.80" x2="115.60" y2="718.40" stroke="#000" stroke-width="1.1"/>
<line x1="151.20" y1="715.80" x2="151.20" y2="720.40" stroke="#000" stroke-width="1.1"/>
<text x="151.20" y="729.40" class="tick" text-anchor="middle">500</text>
<line x1="186.80" y1="715.80" x2="186.80" y2="718.40" stroke="#000" stroke-width="1.1"/>
<line x1="222.40" y1="715.80" x2="222.40" y2="720.40" stroke="#000" stroke-width="1.1"/>
<text x="222.40" y="729.40" class="tick" text-anchor="middle">600</text>
<line x1="258.00" y1="715.80" x2="258.00" y2="718.40" stroke="#000" stroke-width="1.1"/>
<line x1="293.60" y1="715.80" x2="293.60" y2="720.40" stroke="#000" stroke-width="1.1"/>
<text x="293.60" y="729.40" class="tick" text-anchor="middle">700</text>
<line x1="329.20" y1="715.80" x2="329.20" y2="718.40" stroke="#000" stroke-width="1.1"/>
<line x1="241.10" y1="672.80" x2="259.70" y2="672.80" fill="none" stroke="#000" stroke-width="1.50"/>
<text x="261.80" y="676.40" class="leg">initial</text>
<line x1="241.10" y1="684.50" x2="259.70" y2="684.50" fill="none" stroke="#ff1a1a" stroke-width="1.30" stroke-dasharray="3.4 1.8"/>
<text x="261.80" y="688.10" class="leg">Fe(II) <tspan class="sup" dy="-4.0">3</tspan><tspan dx="0.3" dy="4.0">MLCT hot</tspan></text>
<line x1="241.10" y1="696.20" x2="259.70" y2="696.20" fill="none" stroke="#66eedc" stroke-width="1.30"/>
<text x="261.80" y="699.80" class="leg">Fe(II) <tspan class="sup" dy="-4.0">3</tspan><tspan dx="0.3" dy="4.0">MLCT cold</tspan></text>
<line x1="241.10" y1="707.20" x2="259.70" y2="707.20" fill="none" stroke="#1c9c1c" stroke-width="1.30" stroke-dasharray="2.6 0.7"/>
<text x="261.80" y="710.80" class="leg">Fe(II) quintet</text>
<text x="187.80" y="746.20" class="xl" text-anchor="middle">wavelength / nm</text>
<text transform="translate(9.8,610.90) rotate(-90)" class="yl" text-anchor="middle">&#916;mOD</text>
<text x="1.6" y="18.0" class="pl">A</text>
<text x="4.4" y="265.8" class="pl" style="font-size:18.8px" textLength="10.2" lengthAdjust="spacingAndGlyphs">B</text>
<text x="6.0" y="518.3" class="pl" style="font-size:19.8px" textLength="12.4" lengthAdjust="spacingAndGlyphs">C</text>
<text x="54.50" y="25.60" class="an nm" style="fill:#ff0000;stroke:#ff0000" textLength="15.2" lengthAdjust="spacingAndGlyphs">Ru</text><text x="54.80" y="40.00" class="an">&#955;</text><text x="61.40" y="40.00" class="sub" textLength="10.2" lengthAdjust="spacingAndGlyphs">ex</text><text x="72.10" y="40.00" class="an" textLength="9.4" lengthAdjust="spacingAndGlyphs">=</text><text x="85.10" y="40.00" class="an" textLength="45.6" lengthAdjust="spacingAndGlyphs">520 nm</text>
<text x="54.90" y="275.50" class="an nm" style="fill:#2450e0;stroke:#2450e0" textLength="45.4" lengthAdjust="spacingAndGlyphs">RuFeRu</text><text x="55.20" y="290.00" class="an">&#955;</text><text x="61.80" y="290.00" class="sub" textLength="10.2" lengthAdjust="spacingAndGlyphs">ex</text><text x="72.50" y="290.00" class="an" textLength="9.4" lengthAdjust="spacingAndGlyphs">=</text><text x="85.50" y="290.00" class="an" textLength="45.6" lengthAdjust="spacingAndGlyphs">520 nm</text>
<text x="55.20" y="693.40" class="an nm" style="fill:#2450e0;stroke:#2450e0" textLength="45.4" lengthAdjust="spacingAndGlyphs">RuFeRu</text><text x="55.50" y="707.40" class="an">&#955;</text><text x="62.10" y="707.40" class="sub" textLength="10.2" lengthAdjust="spacingAndGlyphs">ex</text><text x="72.80" y="707.40" class="an" textLength="9.4" lengthAdjust="spacingAndGlyphs">=</text><text x="85.80" y="707.40" class="an" textLength="45.6" lengthAdjust="spacingAndGlyphs">575 nm</text>
</svg></body></html>
